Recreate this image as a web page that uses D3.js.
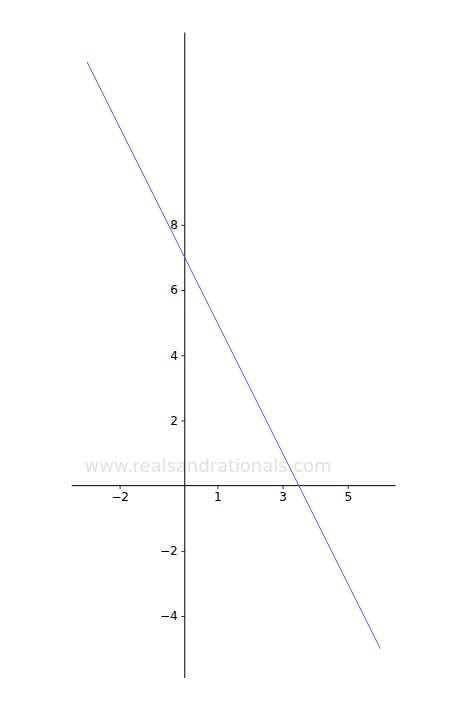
<!DOCTYPE html>
<html><head><meta charset="utf-8">
<script src="https://cdn.jsdelivr.net/npm/d3@7"></script>
<style>body{margin:0;background:#fff}svg{display:block}</style>
</head><body>
<svg id="c" width="474" height="723"></svg>
<script>
const lineX = [-3, 6];
const lineY = [13, -5];
const xTicks = [-2, 1, 3, 5];
const yTicks = [-4, -2, 2, 4, 6, 8];
const watermark = "www.realsandrationals.com";

const svg = d3.select("#c");
const x = d3.scaleLinear().domain([-3.47, 6.47]).range([71.7, 395.6]);
const y = d3.scaleLinear().domain([-5.9, 13.9]).range([678, 32.5]);
const fmt = d => d < 0 ? "\u2212" + Math.abs(d) : String(d);
const font = "DejaVu Sans, sans-serif";

// watermark
const wm = svg.append("text").attr("x", 208).attr("y", 472)
  .attr("text-anchor", "middle").attr("font-family", font).attr("font-size", 18)
  .attr("fill", "#e3e3e3").text(watermark);
const w = wm.node().getComputedTextLength();
wm.attr("font-size", 18 * 247 / w);

// x axis at y=0
const xa = svg.append("g").attr("transform", `translate(0,${y(0)})`)
  .call(d3.axisBottom(x).tickValues(xTicks).tickFormat(fmt).tickSize(3.5).tickPadding(3.5));
xa.select(".domain").attr("d", `M${x.range()[0]},0H${x.range()[1]}`);
// y axis at x=0
const ya = svg.append("g").attr("transform", `translate(${x(0)},0)`)
  .call(d3.axisLeft(y).tickValues(yTicks).tickFormat(fmt).tickSize(3.5).tickPadding(3.5));
ya.select(".domain").attr("d", `M0,${y.range()[0]}V${y.range()[1]}`);
svg.selectAll(".tick text").attr("font-family", font).attr("font-size", 12).attr("fill", "#000");
svg.selectAll(".domain").attr("stroke", "#000").attr("stroke-width", 1);
svg.selectAll(".tick line").attr("stroke", "#000").attr("stroke-width", 0.8);

// line
const pts = lineX.map((v, i) => [v, lineY[i]]);
svg.append("path").datum(pts)
  .attr("d", d3.line().x(d => x(d[0])).y(d => y(d[1])))
  .attr("fill", "none").attr("stroke", "#5555f0").attr("stroke-width", 1);
</script>
</body></html>
